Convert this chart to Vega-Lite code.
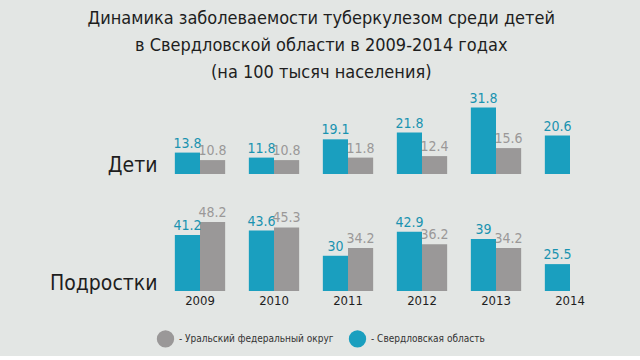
{
  "$schema": "https://vega.github.io/schema/vega-lite/v6.json",
  "background": "#e3e6e4",
  "padding": {"left": 49, "top": 10, "right": 33, "bottom": 8},
  "config": {
    "font": "DejaVu Sans Condensed",
    "view": {"stroke": null},
    "axis": {"grid": false, "domain": false, "ticks": false}
  },
  "title": {
    "text": ["Динамика заболеваемости туберкулезом среди детей", "в Свердловской области в 2009-2014 годах", "(на 100 тысяч населения)"],
    "fontSize": 18,
    "fontWeight": "normal",
    "font": "DejaVu Sans Condensed",
    "color": "#1e1e1e",
    "lineHeight": 27,
    "anchor": "middle",
    "offset": 5,
    "dx": -7
  },
  "data": {
    "values": [
      {"group": "Дети", "year": "2009", "series": "Свердловская область", "value": 13.8},
      {"group": "Дети", "year": "2009", "series": "Уральский федеральный округ", "value": 10.8},
      {"group": "Дети", "year": "2010", "series": "Свердловская область", "value": 11.8},
      {"group": "Дети", "year": "2010", "series": "Уральский федеральный округ", "value": 10.8},
      {"group": "Дети", "year": "2011", "series": "Свердловская область", "value": 19.1},
      {"group": "Дети", "year": "2011", "series": "Уральский федеральный округ", "value": 11.8},
      {"group": "Дети", "year": "2012", "series": "Свердловская область", "value": 21.8},
      {"group": "Дети", "year": "2012", "series": "Уральский федеральный округ", "value": 12.4},
      {"group": "Дети", "year": "2013", "series": "Свердловская область", "value": 31.8},
      {"group": "Дети", "year": "2013", "series": "Уральский федеральный округ", "value": 15.6},
      {"group": "Дети", "year": "2014", "series": "Свердловская область", "value": 20.6},
      {"group": "Подростки", "year": "2009", "series": "Свердловская область", "value": 41.2},
      {"group": "Подростки", "year": "2009", "series": "Уральский федеральный округ", "value": 48.2},
      {"group": "Подростки", "year": "2010", "series": "Свердловская область", "value": 43.6},
      {"group": "Подростки", "year": "2010", "series": "Уральский федеральный округ", "value": 45.3},
      {"group": "Подростки", "year": "2011", "series": "Свердловская область", "value": 30},
      {"group": "Подростки", "year": "2011", "series": "Уральский федеральный округ", "value": 34.2},
      {"group": "Подростки", "year": "2012", "series": "Свердловская область", "value": 42.9},
      {"group": "Подростки", "year": "2012", "series": "Уральский федеральный округ", "value": 36.2},
      {"group": "Подростки", "year": "2013", "series": "Свердловская область", "value": 39},
      {"group": "Подростки", "year": "2013", "series": "Уральский федеральный округ", "value": 34.2},
      {"group": "Подростки", "year": "2014", "series": "Свердловская область", "value": 25.5}
    ]
  },
  "spacing": 27,
  "vconcat": [
    {
      "width": 444,
      "height": 87,
      "transform": [{"filter": "datum.group === 'Дети'"}],
      "encoding": {
        "x": {"field": "year", "type": "ordinal", "scale": {"paddingInner": 0.32, "paddingOuter": 0.16}, "axis": null},
        "xOffset": {"field": "series", "type": "nominal", "scale": {"domain": ["Свердловская область", "Уральский федеральный округ"]}},
        "y": {"field": "value", "type": "quantitative", "scale": {"domain": [5.25, 40], "zero": false, "nice": false},
          "axis": {"labels": false, "title": "Дети", "titleAngle": 0, "titleAlign": "right", "titleBaseline": "bottom", "titleY": 88, "titleX": -6, "titleFontSize": 21, "titleFontWeight": "normal", "titleColor": "#1e1e1e"}}
      },
      "layer": [
        {
          "mark": {"type": "bar"},
          "encoding": {
            "y2": {"datum": 5.25},
            "color": {"field": "series", "type": "nominal", "scale": {"domain": ["Уральский федеральный округ", "Свердловская область"], "range": ["#9a9898", "#1a9fbf"]},
              "legend": {"title": null, "orient": "none", "legendX": -7, "legendY": 242, "direction": "horizontal", "symbolType": "circle", "symbolSize": 300, "labelFontSize": 10, "labelColor": "#333", "labelExpr": "'- ' + datum.label", "labelLimit": 300, "columnPadding": 14}}
          }
        },
        {
          "transform": [{"filter": "datum.series === 'Свердловская область'"}],
          "mark": {"type": "text", "baseline": "bottom", "dy": -2, "fontSize": 14, "color": "#1a93b0"},
          "encoding": {"text": {"field": "value", "type": "quantitative"}}
        },
        {
          "transform": [{"filter": "datum.series === 'Уральский федеральный округ'"}],
          "mark": {"type": "text", "baseline": "bottom", "dy": -2, "fontSize": 14, "color": "#9a9898"},
          "encoding": {"text": {"field": "value", "type": "quantitative"}}
        }
      ]
    },
    {
      "width": 444,
      "height": 89,
      "transform": [{"filter": "datum.group === 'Подростки'"}],
      "encoding": {
        "x": {"field": "year", "type": "ordinal", "scale": {"paddingInner": 0.32, "paddingOuter": 0.16},
          "axis": {"title": null, "labelAngle": 0, "labelFontSize": 13, "labelColor": "#1e1e1e", "labelPadding": 3}},
        "xOffset": {"field": "series", "type": "nominal", "scale": {"domain": ["Свердловская область", "Уральский федеральный округ"]}},
        "y": {"field": "value", "type": "quantitative", "scale": {"domain": [11, 59], "zero": false, "nice": false},
          "axis": {"labels": false, "title": "Подростки", "titleAngle": 0, "titleAlign": "right", "titleBaseline": "bottom", "titleY": 91, "titleX": -6, "titleFontSize": 21, "titleFontWeight": "normal", "titleColor": "#1e1e1e"}}
      },
      "layer": [
        {
          "mark": {"type": "bar"},
          "encoding": {
            "y2": {"datum": 11},
            "color": {"field": "series", "type": "nominal", "scale": {"domain": ["Уральский федеральный округ", "Свердловская область"], "range": ["#9a9898", "#1a9fbf"]},
              "legend": {"title": null, "orient": "none", "legendX": -7, "legendY": 242, "direction": "horizontal", "symbolType": "circle", "symbolSize": 300, "labelFontSize": 10, "labelColor": "#333", "labelExpr": "'- ' + datum.label", "labelLimit": 300, "columnPadding": 14}}
          }
        },
        {
          "transform": [{"filter": "datum.series === 'Свердловская область'"}],
          "mark": {"type": "text", "baseline": "bottom", "dy": -2, "fontSize": 14, "color": "#1a93b0"},
          "encoding": {"text": {"field": "value", "type": "quantitative"}}
        },
        {
          "transform": [{"filter": "datum.series === 'Уральский федеральный округ'"}],
          "mark": {"type": "text", "baseline": "bottom", "dy": -2, "fontSize": 14, "color": "#9a9898"},
          "encoding": {"text": {"field": "value", "type": "quantitative"}}
        }
      ]
    }
  ]
}
